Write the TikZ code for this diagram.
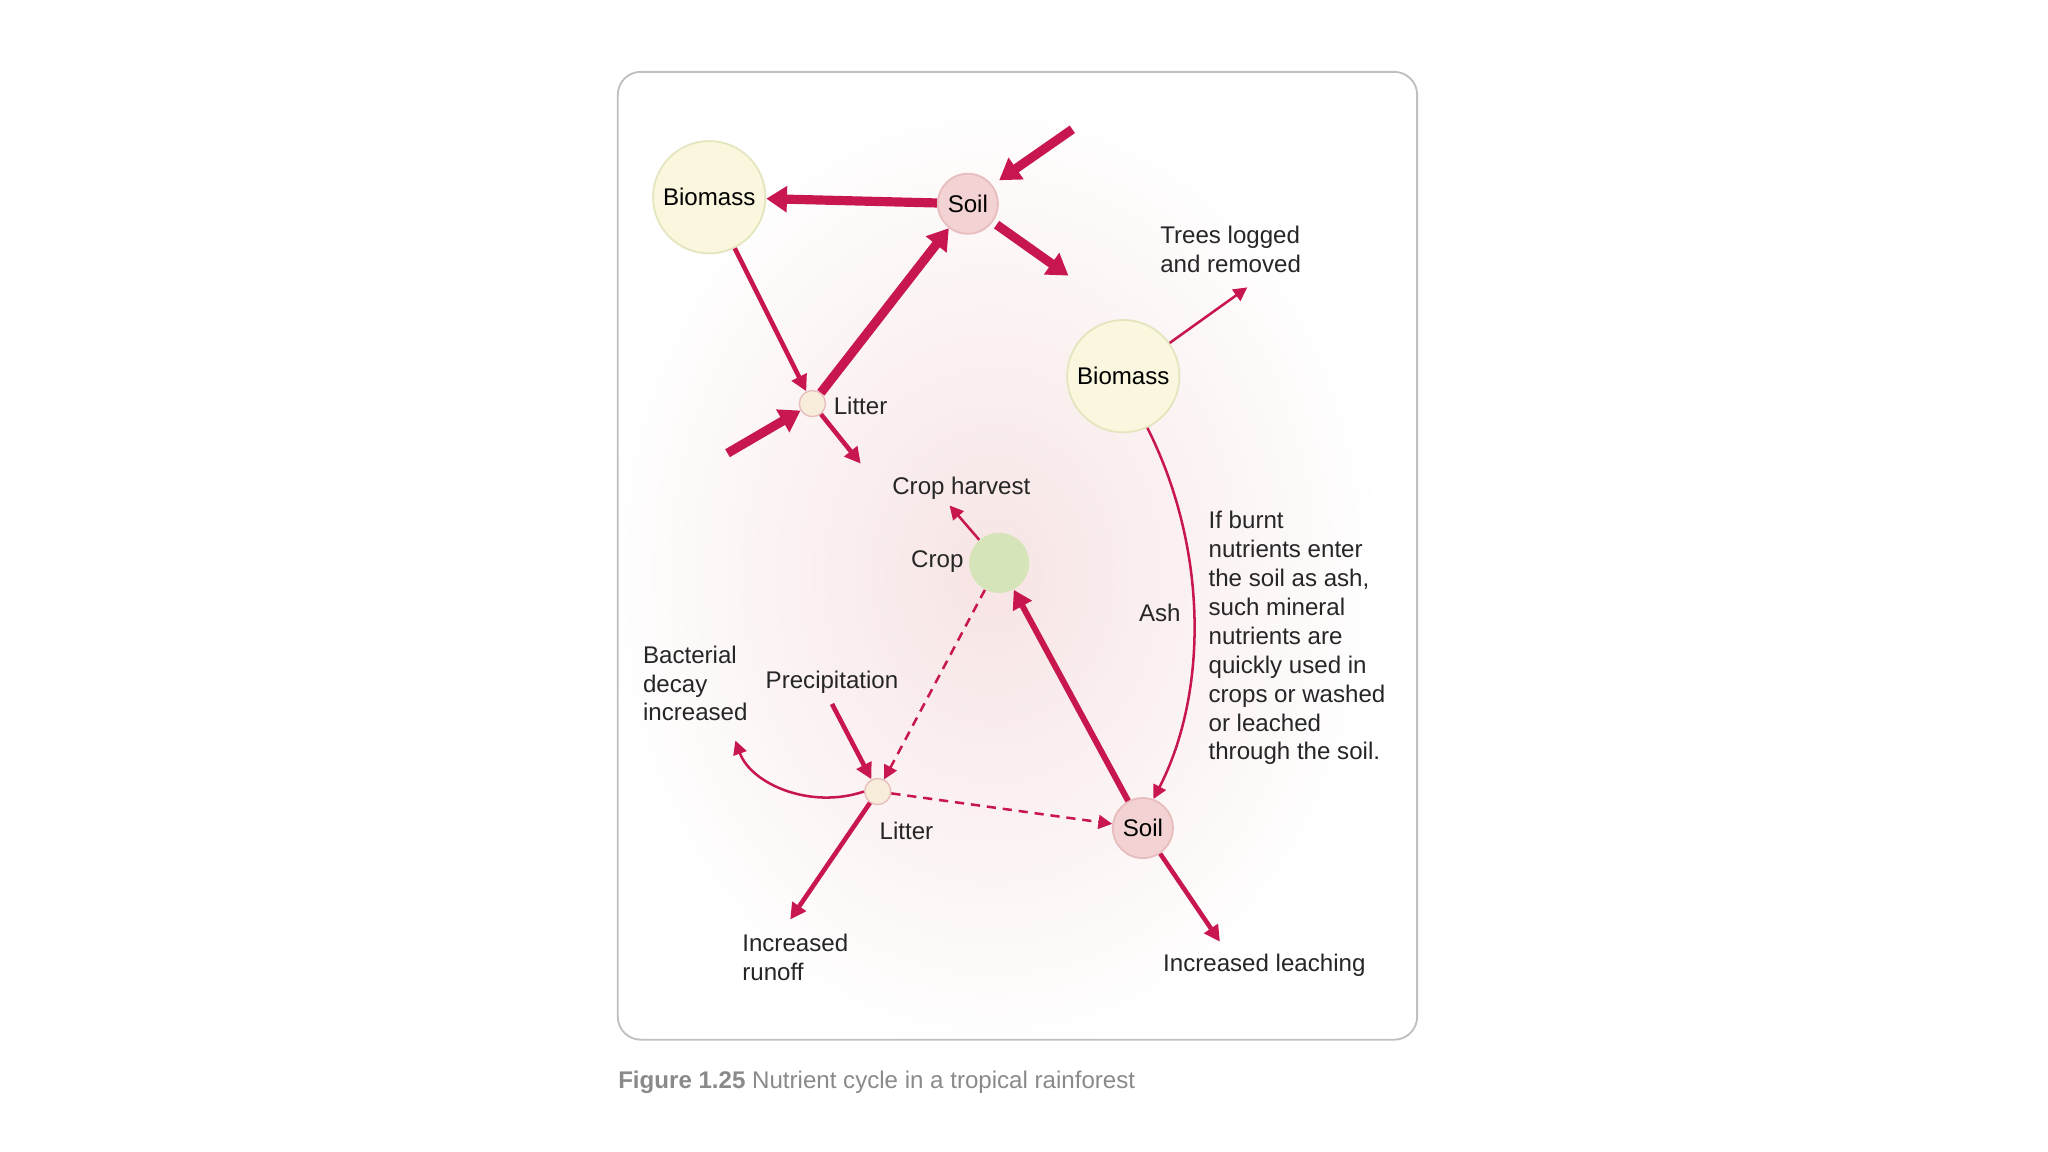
\documentclass[tikz,border=0pt]{standalone}
\usepackage{fontspec}
\setmainfont{Liberation Sans}
\usetikzlibrary{arrows.meta}
\definecolor{crim}{HTML}{C8174F}
\definecolor{bioF}{HTML}{FAF7DE}
\definecolor{bioD}{HTML}{E3E6BE}
\definecolor{soilF}{HTML}{F2D2D2}
\definecolor{soilD}{HTML}{E8BDBD}
\definecolor{cropF}{HTML}{D6E4B9}
\definecolor{capg}{HTML}{8A8A8A}
\begin{document}
\begin{tikzpicture}[x=0.02cm,y=-0.02cm,
  lab/.style={font=\fontsize{10.5}{12.6}\selectfont,text=black!85,inner sep=0pt},
  thickA/.style={draw=crim,line width=4pt,-{Triangle[length=9pt,width=11pt]}},
  medA/.style={draw=crim,line width=2pt,-{Triangle[length=7pt,width=7pt]}},
  thinA/.style={draw=crim,line width=1.1pt,-{Triangle[length=6pt,width=6pt]}},
  dashA/.style={draw=crim,line width=1.1pt,dash pattern=on 4pt off 3pt,-{Triangle[length=6pt,width=6pt]}},
  bio/.style={circle,minimum size=86*0.02cm,fill=bioF,draw=bioD,line width=0.8pt,inner sep=0pt,font=\fontsize{10.5}{12}\selectfont},
  soil/.style={circle,minimum size=46*0.02cm,fill=soilF,draw=soilD,line width=0.8pt,inner sep=0pt,font=\fontsize{10.5}{12}\selectfont},
  lit/.style={circle,minimum size=20*0.02cm,fill=bioF!70!soilF,draw=soilD,line width=0.6pt,inner sep=0pt}]
\useasboundingbox (0,0) rectangle (1568,882);
\fill[white] (0,0) rectangle (1568,882);
\begin{scope}
\clip[rounded corners=10pt] (473,55) rectangle (1085,796);
\shade[inner color=soilF!60,outer color=white] (760,440) ellipse (300 and 370);
\end{scope}
\draw[black!25,line width=0.8pt,rounded corners=10pt] (473,55) rectangle (1085,796);

\node[bio] (b1) at (543,151) {Biomass};
\node[soil] (s1) at (741,156) {Soil};
\node[lit] (l1) at (622,309) {};
\node[lab,anchor=west] (l1t) at (638,311) {Litter};
\node[bio] (b2) at (860,288) {Biomass};
\node[circle,minimum size=46*0.02cm,fill=cropF,inner sep=0pt] (cr) at (765,431) {};
\node[lab,anchor=east] (crt) at (738,430) {Crop};
\node[soil] (s2) at (875,634) {Soil};
\node[lit] (l2) at (672,606) {};
\node[lab] (l2t) at (694,636) {Litter};

\coordinate (in1) at (821,99); \coordinate (in1e) at (765,138);
\coordinate (out1) at (763,172); \coordinate (out1e) at (818,211);
\coordinate (in2) at (557,347); \coordinate (out2e) at (659,355);
\coordinate (trees) at (955,220);
\coordinate (harv) at (727,387);
\coordinate (bact) at (563,567);
\coordinate (runoff) at (605,704);
\coordinate (leach) at (934,721);

\draw[thickA] (s1) -- (b1);
\draw[thickA] (in1) -- (in1e);
\draw[thickA] (out1) -- (out1e);
\draw[medA] (b1) -- (l1);
\draw[thickA] (l1) -- (s1);
\draw[thickA] (in2) -- (l1);
\draw[medA] (l1) -- (out2e);

\draw[thinA] (b2) -- (trees);
\node[lab,anchor=north west,align=left] (treest) at (888,173) {Trees logged\\and removed};
\draw[thinA] (cr) -- (harv);
\node[lab] (harvt) at (736,374) {Crop harvest};
\draw[thinA] (b2.295) .. controls (925,420) and (925,530) .. (s2.70);
\node[lab] (asht) at (888,469) {Ash};
\node[lab,anchor=north west,align=left] (expl) at (925,391)
 {If burnt\\nutrients enter\\the soil as ash,\\such mineral\\nutrients are\\quickly used in\\crops or washed\\or leached\\through the soil.};
\draw[line width=2.6pt,draw=crim,-{Triangle[length=8pt,width=9pt]}] (s2) -- (cr);
\draw[dashA] (cr) -- (l2);
\draw[dashA] (l2) -- (s2);
\node[lab] (prect) at (637,522) {Precipitation};
\draw[medA] (prect.south) ++(0,8) -- (l2);
\draw[thinA] (l2.west) .. controls (620,620) and (575,600) .. (bact);
\node[lab,anchor=north west,align=left] (bactt) at (492,494) {Bacterial\\decay\\increased};
\draw[medA] (l2) -- (runoff);
\node[lab,anchor=north west,align=left] (runt) at (568,715) {Increased\\runoff};
\draw[medA] (s2) -- (leach);
\node[lab] (leacht) at (968,739) {Increased leaching};
\node[anchor=west,inner sep=0pt,text=capg,font=\fontsize{10.5}{12}\selectfont] (cap) at (473,829) {\textbf{Figure 1.25} Nutrient cycle in a tropical rainforest};
\end{tikzpicture}
\end{document}
